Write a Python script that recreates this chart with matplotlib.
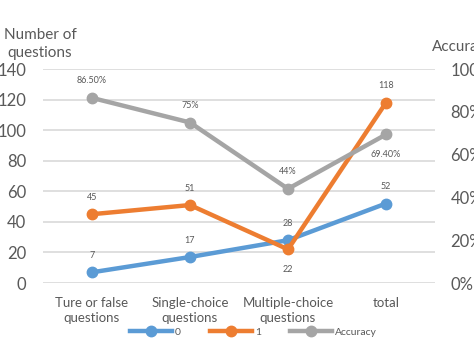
import matplotlib.pyplot as plt

categories = ['Ture or false\nquestions', 'Single-choice\nquestions', 'Multiple-choice\nquestions', 'total']
zeros = [7, 17, 28, 52]
ones = [45, 51, 22, 118]
accuracy = [86.5, 75, 44, 69.4]
acc_labels = ['86.50%', '75%', '44%', '69.40%']

plt.rcParams['font.family'] = ['Lato', 'DejaVu Sans']
txt = '#595959'

fig = plt.figure(figsize=(4.74, 3.39), dpi=100)
ax = fig.add_axes([43 / 474, 56 / 339, 392 / 474, 214 / 339])
ax2 = ax.twinx()

x = list(range(len(categories)))
l0, = ax.plot(x, zeros, color='#5B9BD5', lw=3.2, marker='o', ms=7.5, label='0', zorder=3)
l1, = ax.plot(x, ones, color='#ED7D31', lw=3.2, marker='o', ms=7.5, label='1', zorder=3)
l2, = ax2.plot(x, accuracy, color='#A5A5A5', lw=3.2, marker='o', ms=7.5, label='Accuracy', zorder=3)

ax.set_xlim(-0.5, 3.5)
ax.set_ylim(0, 140)
ax.set_yticks(range(0, 141, 20))
ax2.set_ylim(0, 100)
ax2.set_yticks(range(0, 101, 20))
ax2.set_yticklabels([f'{v}%' for v in range(0, 101, 20)])
ax.set_xticks(x)
ax.set_xticklabels(categories, color=txt, linespacing=1.3)
ax.grid(axis='y', color='#D9D9D9', lw=1.2)
ax.set_axisbelow(True)
for a in (ax, ax2):
    for s in a.spines.values():
        s.set_visible(False)
    a.tick_params(length=0, colors=txt, labelsize=12)
ax.tick_params(axis='y', pad=12)
ax.tick_params(axis='x', pad=10, labelsize=9.5)
ax2.tick_params(axis='y', pad=11)
for lab in ax2.get_yticklabels():
    lab.set_horizontalalignment('left')

# data labels
for i, v in enumerate(zeros):
    ax.annotate(str(v), (i, v), xytext=(0, 9), textcoords='offset points',
                ha='center', va='bottom', fontsize=6.5, color=txt)
for i, v in enumerate(ones):
    off = -18 if i == 2 else 9
    ax.annotate(str(v), (i, v), xytext=(0, off), textcoords='offset points',
                ha='center', va='bottom', fontsize=6.5, color=txt)
for i, (v, s) in enumerate(zip(accuracy, acc_labels)):
    off = -18 if i == 3 else 9
    ax2.annotate(s, (i, v), xytext=(0, off), textcoords='offset points',
                 ha='center', va='bottom', fontsize=6.5, color=txt)

fig.text(40 / 474, 1 - 44 / 339, 'Number of\nquestions', ha='center', va='center',
         fontsize=11, color=txt, linespacing=1.3)
fig.text(432 / 474, 1 - 47 / 339, 'Accuracy', ha='left', va='center',
         fontsize=11, color=txt)

fig.legend(handles=[l0, l1, l2], loc='center', bbox_to_anchor=(0.535, 1 - 332 / 339),
           ncol=3, frameon=False, fontsize=7.5, labelcolor=txt, handlelength=4,
           columnspacing=2.8, handletextpad=0.3, borderaxespad=0)

fig.savefig('out.png', dpi=100)
